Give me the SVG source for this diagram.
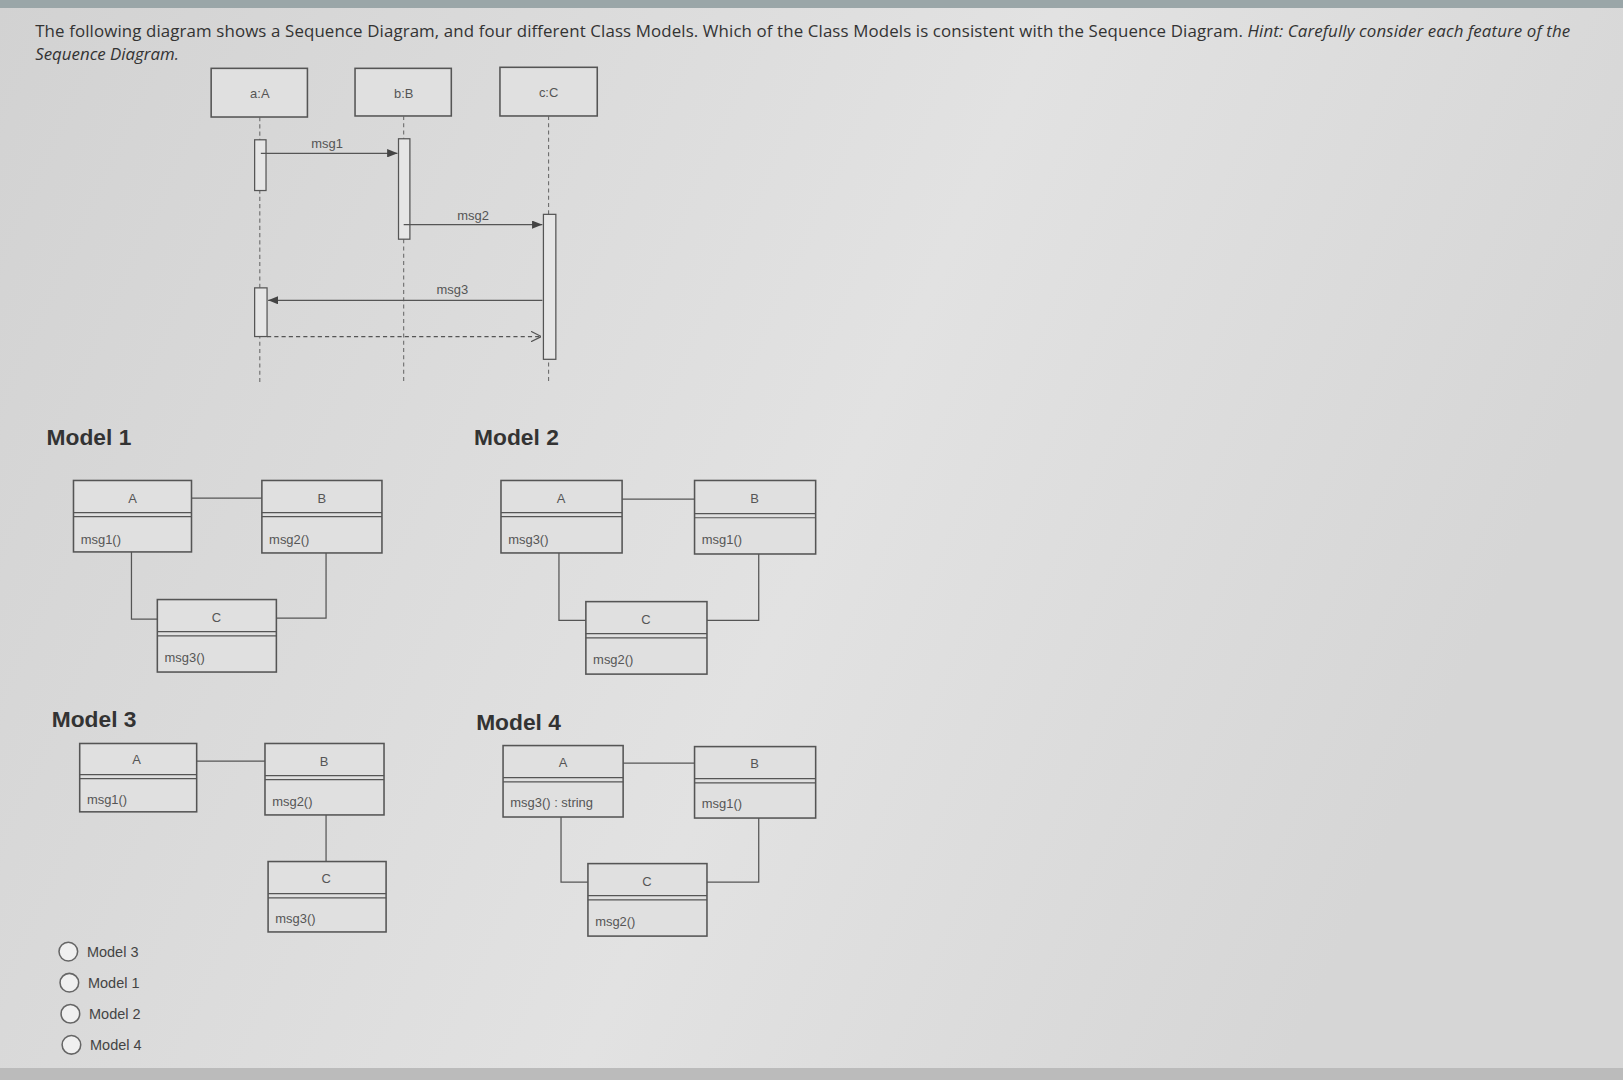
<svg xmlns="http://www.w3.org/2000/svg" width="1623" height="1080" viewBox="0 0 1623 1080">
<defs>
<linearGradient id="bg" x1="0" y1="0" x2="1" y2="0.3">
<stop offset="0" stop-color="#d2d2d2"/><stop offset="0.6" stop-color="#e2e2e2"/><stop offset="1" stop-color="#d6d6d6"/>
</linearGradient>
<marker id="fill" markerWidth="10" markerHeight="8" refX="10" refY="4" orient="auto" markerUnits="userSpaceOnUse"><path d="M0,0 L10,4 L0,8 z" fill="#444"/></marker>
<marker id="open" markerWidth="10" markerHeight="10" refX="10" refY="5" orient="auto" markerUnits="userSpaceOnUse"><path d="M0,0 L10,5 L0,10" fill="none" stroke="#555" stroke-width="1.2"/></marker>
</defs>
<style>
text{font-family:"Liberation Sans",Arial,sans-serif;fill:#555}
.q{font-family:"Open Sans","Noto Sans",sans-serif;font-size:16.3px;fill:#333}
.qi{font-style:italic}
.h{font-size:22px;font-weight:bold;fill:#333}
.s{font-size:12.5px}
.box{fill:#e0e0e0;stroke:#555;stroke-width:1.5}
.ln{fill:none;stroke:#555;stroke-width:1.2}
.life{stroke:#666;stroke-width:1;stroke-dasharray:4 3}
.act{fill:#e6e6e6;stroke:#555;stroke-width:1.2}
.radio{fill:#f0f0f0;stroke:#666;stroke-width:1.5}
.opt{font-size:14px;fill:#444}
</style>
<rect width="1623" height="1080" fill="url(#bg)"/>
<rect width="1623" height="8" fill="#9aa6a8"/>
<rect y="1068" width="1623" height="12" fill="#bbb"/>
<g transform="scale(1.0351 1.0355)">
<text class="q" x="34" y="36" textLength="1483" lengthAdjust="spacing">The following diagram shows a Sequence Diagram, and four different Class Models.  Which of the Class Models is consistent with the Sequence Diagram.  <tspan class="qi">Hint: Carefully consider each feature of the</tspan></text>
<text class="q qi" x="34" y="58">Sequence Diagram.</text>

<g id="seq-aA"><rect class="box" x="204" y="66" width="93" height="47"/><text class="s" x="251" y="95" text-anchor="middle">a:A</text><line class="life" x1="251" y1="113" x2="251" y2="370"/><rect class="act" x="246" y="135" width="11" height="49"/><rect class="act" x="246" y="278" width="12" height="47"/></g>
<g id="seq-bB"><rect class="box" x="343" y="66" width="93" height="46"/><text class="s" x="390" y="95" text-anchor="middle">b:B</text><line class="life" x1="390" y1="112" x2="390" y2="370"/><rect class="act" x="385" y="134" width="11" height="97"/></g>
<g id="seq-cC"><rect class="box" x="483" y="65" width="94" height="47"/><text class="s" x="530" y="94" text-anchor="middle">c:C</text><line class="life" x1="530" y1="112" x2="530" y2="370"/><rect class="act" x="525" y="207" width="12" height="140"/></g>
<g id="seq-msgs">
<line class="ln" x1="252" y1="148" x2="384" y2="148" marker-end="url(#fill)"/><text class="s" x="316" y="143" text-anchor="middle">msg1</text>
<line class="ln" x1="390" y1="217" x2="524" y2="217" marker-end="url(#fill)"/><text class="s" x="457" y="212" text-anchor="middle">msg2</text>
<line class="ln" x1="524" y1="290" x2="259" y2="290" marker-end="url(#fill)"/><text class="s" x="437" y="284" text-anchor="middle">msg3</text>
<line class="ln" x1="258" y1="325" x2="523" y2="325" stroke-dasharray="4 3" marker-end="url(#open)"/>
</g>

<text class="h" x="45" y="430">Model 1</text>
<text class="h" x="458" y="430">Model 2</text>
<text class="h" x="50" y="702">Model 3</text>
<text class="h" x="460" y="705">Model 4</text>

<g id="connectors">
<polyline class="ln" points="185,481 253,481"/>
<polyline class="ln" points="127,533 127,598 152,598"/>
<polyline class="ln" points="315,534 315,597 267,597"/>
<polyline class="ln" points="601,482 671,482"/>
<polyline class="ln" points="540,534 540,599 566,599"/>
<polyline class="ln" points="733,535 733,599 683,599"/>
<polyline class="ln" points="190,735 256,735"/>
<polyline class="ln" points="315,787 315,832"/>
<polyline class="ln" points="602,737 671,737"/>
<polyline class="ln" points="542,789 542,852 568,852"/>
<polyline class="ln" points="733,790 733,852 683,852"/>
</g>

<g id="m1-A"><rect class="box" x="71" y="464" width="114" height="69"/><line class="ln" x1="71" y1="495" x2="185" y2="495"/><line class="ln" x1="71" y1="499" x2="185" y2="499"/><text class="s" x="128" y="486" text-anchor="middle">A</text><text class="s" x="78" y="525">msg1()</text></g>
<g id="m1-B"><rect class="box" x="253" y="464" width="116" height="70"/><line class="ln" x1="253" y1="495" x2="369" y2="495"/><line class="ln" x1="253" y1="499" x2="369" y2="499"/><text class="s" x="311" y="486" text-anchor="middle">B</text><text class="s" x="260" y="525">msg2()</text></g>
<g id="m1-C"><rect class="box" x="152" y="579" width="115" height="70"/><line class="ln" x1="152" y1="610" x2="267" y2="610"/><line class="ln" x1="152" y1="614" x2="267" y2="614"/><text class="s" x="209" y="601" text-anchor="middle">C</text><text class="s" x="159" y="639">msg3()</text></g>

<g id="m2-A"><rect class="box" x="484" y="464" width="117" height="70"/><line class="ln" x1="484" y1="495" x2="601" y2="495"/><line class="ln" x1="484" y1="499" x2="601" y2="499"/><text class="s" x="542" y="486" text-anchor="middle">A</text><text class="s" x="491" y="525">msg3()</text></g>
<g id="m2-B"><rect class="box" x="671" y="464" width="117" height="71"/><line class="ln" x1="671" y1="496" x2="788" y2="496"/><line class="ln" x1="671" y1="500" x2="788" y2="500"/><text class="s" x="729" y="486" text-anchor="middle">B</text><text class="s" x="678" y="525">msg1()</text></g>
<g id="m2-C"><rect class="box" x="566" y="581" width="117" height="70"/><line class="ln" x1="566" y1="612" x2="683" y2="612"/><line class="ln" x1="566" y1="616" x2="683" y2="616"/><text class="s" x="624" y="603" text-anchor="middle">C</text><text class="s" x="573" y="641">msg2()</text></g>

<g id="m3-A"><rect class="box" x="77" y="718" width="113" height="66"/><line class="ln" x1="77" y1="748" x2="190" y2="748"/><line class="ln" x1="77" y1="752" x2="190" y2="752"/><text class="s" x="132" y="738" text-anchor="middle">A</text><text class="s" x="84" y="776">msg1()</text></g>
<g id="m3-B"><rect class="box" x="256" y="718" width="115" height="69"/><line class="ln" x1="256" y1="749" x2="371" y2="749"/><line class="ln" x1="256" y1="753" x2="371" y2="753"/><text class="s" x="313" y="740" text-anchor="middle">B</text><text class="s" x="263" y="778">msg2()</text></g>
<g id="m3-C"><rect class="box" x="259" y="832" width="114" height="68"/><line class="ln" x1="259" y1="863" x2="373" y2="863"/><line class="ln" x1="259" y1="867" x2="373" y2="867"/><text class="s" x="315" y="853" text-anchor="middle">C</text><text class="s" x="266" y="891">msg3()</text></g>

<g id="m4-A"><rect class="box" x="486" y="720" width="116" height="69"/><line class="ln" x1="486" y1="751" x2="602" y2="751"/><line class="ln" x1="486" y1="755" x2="602" y2="755"/><text class="s" x="544" y="741" text-anchor="middle">A</text><text class="s" x="493" y="779">msg3() : string</text></g>
<g id="m4-B"><rect class="box" x="671" y="721" width="117" height="69"/><line class="ln" x1="671" y1="752" x2="788" y2="752"/><line class="ln" x1="671" y1="756" x2="788" y2="756"/><text class="s" x="729" y="742" text-anchor="middle">B</text><text class="s" x="678" y="780">msg1()</text></g>
<g id="m4-C"><rect class="box" x="568" y="834" width="115" height="70"/><line class="ln" x1="568" y1="865" x2="683" y2="865"/><line class="ln" x1="568" y1="869" x2="683" y2="869"/><text class="s" x="625" y="856" text-anchor="middle">C</text><text class="s" x="575" y="894">msg2()</text></g>

<g id="answers">
<circle class="radio" cx="66" cy="919" r="9"/><text class="opt" x="84" y="924">Model 3</text>
<circle class="radio" cx="67" cy="949" r="9"/><text class="opt" x="85" y="954">Model 1</text>
<circle class="radio" cx="68" cy="979" r="9"/><text class="opt" x="86" y="984">Model 2</text>
<circle class="radio" cx="69" cy="1009" r="9"/><text class="opt" x="87" y="1014">Model 4</text>
</g>
</g>
</svg>
